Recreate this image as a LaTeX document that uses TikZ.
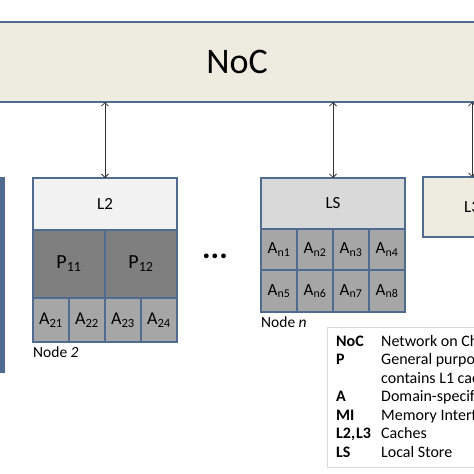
\documentclass[tikz,border=0pt]{standalone}
\usepackage{fontspec}
\setmainfont{Carlito}
\usetikzlibrary{positioning, arrows.meta}
\tikzset{
    Link/.style = {
        <->, >={Straight Barb[length=3.5pt, width=7pt]},
        line width=0.75pt, draw=linkGray
    },
    Box/.style = {
        draw=boxBorder, line width=1.2pt,
        inner sep=0pt, outer sep=0pt,
        anchor=north west,
        font=\fontsize{17}{20}\selectfont
    },
    Cell/.style = {Box, minimum width=36pt},
    Caption/.style = {inner sep=0pt, font=\fontsize{15.5}{18}\selectfont},
    Key/.style = {anchor=base west, inner sep=0pt, font=\fontsize{16}{18}\selectfont\bfseries},
    Desc/.style = {anchor=base west, inner sep=0pt, font=\fontsize{16}{18}\selectfont}
}
\definecolor{boxBorder}{HTML}{4F6B8F}
\definecolor{linkGray}{HTML}{333333}
\definecolor{nocFill}{HTML}{EEECE1}
\definecolor{l2Fill}{HTML}{F2F2F2}
\definecolor{lsFill}{HTML}{D9D9D9}
\definecolor{pFill}{HTML}{7F7F7F}
\definecolor{aFill}{HTML}{A6A6A6}
\definecolor{legendBorder}{HTML}{D9D9D9}

\begin{document}
\begin{tikzpicture}[x=1pt, y=-1pt]
    \useasboundingbox (0,0) rectangle (474,474);
    \clip (0,0) rectangle (474,474);

    % NoC
    \node[Box, anchor=center, fill=nocFill, minimum width=520pt, minimum height=80pt,
          font=\fontsize{36}{40}\selectfont] (noc) at (237,62) {NoC};

    % Node 1 (cut off)
    \node[Box, fill=boxBorder, minimum width=30pt, minimum height=194pt] (node1) at (-26,178) {};

    % Node 2
    \node[Box, fill=l2Fill, minimum width=144pt, minimum height=52pt] (L2) at (33,178) {L2};
    \node[Box, fill=pFill, minimum width=72pt, minimum height=68pt,
          font=\fontsize{20}{23}\selectfont] (P11) at (L2.south west) {P\textsubscript{11}};
    \node[Box, fill=pFill, minimum width=72pt, minimum height=68pt,
          font=\fontsize{20}{23}\selectfont, right=0pt of P11] (P12) {P\textsubscript{12}};
    \node[Cell, fill=aFill, minimum height=44pt, font=\fontsize{18}{20}\selectfont] (A21) at (P11.south west) {A\textsubscript{21}};
    \node[Cell, fill=aFill, minimum height=44pt, font=\fontsize{18}{20}\selectfont, right=0pt of A21] (A22) {A\textsubscript{22}};
    \node[Cell, fill=aFill, minimum height=44pt, font=\fontsize{18}{20}\selectfont, right=0pt of A22] (A23) {A\textsubscript{23}};
    \node[Cell, fill=aFill, minimum height=44pt, font=\fontsize{18}{20}\selectfont, right=0pt of A23] (A24) {A\textsubscript{24}};
    \node[Caption, below right=5pt and 0pt of A21.south west] (cap2) {Node \textit{2}};

    % dots
    \node[Caption, anchor=base, font=\fontsize{32}{32}\selectfont\bfseries] (dots) at (215,258) {...};

    % Node n
    \node[Box, fill=lsFill, minimum width=144pt, minimum height=51pt] (LS) at (261,178) {LS};
    \node[Cell, fill=aFill, minimum height=41pt, font=\fontsize{17}{20}\selectfont] (An1) at (LS.south west) {A\textsubscript{n1}};
    \node[Cell, fill=aFill, minimum height=41pt, font=\fontsize{17}{20}\selectfont, right=0pt of An1] (An2) {A\textsubscript{n2}};
    \node[Cell, fill=aFill, minimum height=41pt, font=\fontsize{17}{20}\selectfont, right=0pt of An2] (An3) {A\textsubscript{n3}};
    \node[Cell, fill=aFill, minimum height=41pt, font=\fontsize{17}{20}\selectfont, right=0pt of An3] (An4) {A\textsubscript{n4}};
    \node[Cell, fill=aFill, minimum height=42pt, font=\fontsize{17}{20}\selectfont] (An5) at (An1.south west) {A\textsubscript{n5}};
    \node[Cell, fill=aFill, minimum height=42pt, font=\fontsize{17}{20}\selectfont, right=0pt of An5] (An6) {A\textsubscript{n6}};
    \node[Cell, fill=aFill, minimum height=42pt, font=\fontsize{17}{20}\selectfont, right=0pt of An6] (An7) {A\textsubscript{n7}};
    \node[Cell, fill=aFill, minimum height=42pt, font=\fontsize{17}{20}\selectfont, right=0pt of An7] (An8) {A\textsubscript{n8}};
    \node[Caption, below right=5pt and 0pt of An5.south west] (capn) {Node \textit{n}};

    % L3 (cut off)
    \node[Box, fill=nocFill, minimum width=98pt, minimum height=60pt] (L3) at (423,177) {L3};

    % links to the NoC
    \draw[Link] (noc.south -| L2.north) -- (L2.north);
    \draw[Link] (noc.south -| LS.north) -- (LS.north);
    \draw[Link] (noc.south -| L3.north) -- (L3.north);

    % legend
    \node[draw=legendBorder, line width=0.8pt, fill=white, inner sep=0pt, anchor=north west,
          minimum width=220pt, minimum height=140pt] (legend) at (327,327) {};
    \node[Key] (kNoC) at (336,346) {NoC};
    \node[Desc] (dNoC) at (381,346) {Network on Chip};
    \node[Key] (kP) at (336,364.5) {P};
    \node[Desc] (dP) at (381,364.5) {General purpose processor,};
    \node[Desc] (dP2) at (381,383) {contains L1 caches};
    \node[Key] (kA) at (336,401.5) {A};
    \node[Desc] (dA) at (381,401.5) {Domain-specific accelerator};
    \node[Key] (kMI) at (336,420) {MI};
    \node[Desc] (dMI) at (381,420) {Memory Interface};
    \node[Key] (kL) at (336,438.5) {L2,\kern1pt L3};
    \node[Desc] (dL) at (381,438.5) {Caches};
    \node[Key] (kLS) at (336,457) {LS};
    \node[Desc] (dLS) at (381,457) {Local Store};
\end{tikzpicture}
\end{document}
